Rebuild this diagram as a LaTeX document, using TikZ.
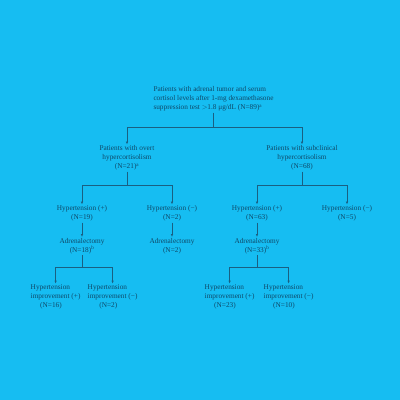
\documentclass[tikz,border=0pt]{standalone}
\usepackage{fontspec}
\setmainfont{Liberation Serif}
\usepackage{xcolor}
\definecolor{bgCyan}{HTML}{16BDF2}
\definecolor{inkBlue}{HTML}{0F4868}
\definecolor{lineBlue}{HTML}{1A5F82}
\usepackage{tikz}
\usetikzlibrary{
    arrows.meta,
    positioning,
    calc
}
\tikzset{
    % Base style for all boxes (no frame, just text)
    flow base/.style={
        font=\fontsize{10}{12.3}\selectfont,
        text=inkBlue,
        inner sep=1.5pt,
        align=center,
    },
    % Group nodes with left aligned lines
    group box/.style={
        flow base,
        align=left,
    },
    % Outcome nodes at the bottom
    outcome/.style={
        flow base,
        align=left,
        anchor=west,
    },
    % Plain joining line
    joint/.style={
        draw=lineBlue,
        line width=0.7pt,
    },
    % Arrow style
    arrow/.style={
        joint,
        -{Latex[length=4pt, width=3.2pt]},
    },
}

\begin{document}
\begin{tikzpicture}[x=1.37pt, y=-1.37pt]
    \fill[bgCyan] (0,0) rectangle (400,400);
    \useasboundingbox (0,0) rectangle (400,400);

    % top level
    \node (all) [group box] at (213.5,99) {Patients with adrenal tumor and serum\\cortisol levels after 1-mg dexamethasone\\suppression test $>$1.8 μg/dL (N=89)\textsuperscript{a}};

    % second level
    \node (overt) [flow base] at (127,158) {Patients with overt\\hypercortisolism\\(N=21)\textsuperscript{a}};
    \node (subcl) [flow base] at (302,158) {Patients with subclinical\\hypercortisolism\\(N=68)};

    % third level
    \node (htpL) [flow base] at (82,213.5) {Hypertension (+)\\(N=19)};
    \node (htmL) [flow base] at (172,213.5) {Hypertension (−)\\(N=2)};
    \node (htpR) [flow base] at (257,213.5) {Hypertension (+)\\(N=63)};
    \node (htmR) [flow base] at (347,213.5) {Hypertension (−)\\(N=5)};

    % adrenalectomy
    \node (adrL) [flow base] at (82,246) {Adrenalectomy\\(N=18)\textsuperscript{b}};
    \node (adrL2) [flow base] at (172,246) {Adrenalectomy\\(N=2)};
    \node (adrR) [flow base] at (257,246) {Adrenalectomy\\(N=33)\textsuperscript{b}};

    % outcomes
    \node (impLp) [outcome] at (29.5,297) {Hypertension\\improvement (+)\\\hspace*{1.3em}(N=16)};
    \node (impLm) [outcome] at (86.5,297) {Hypertension\\improvement (−)\\\hspace*{1.6em}(N=2)};
    \node (impRp) [outcome] at (203.5,297) {Hypertension\\improvement (+)\\\hspace*{1.3em}(N=23)};
    \node (impRm) [outcome] at (262.5,297) {Hypertension\\improvement (−)\\\hspace*{1.3em}(N=10)};

    % branch points
    \coordinate (splitTop) at (213.5,127);
    \coordinate (splitOvert) at (127,185);
    \coordinate (splitSubcl) at (302,185);
    \coordinate (splitAdrL) at (82,267);
    \coordinate (splitAdrR) at (257,267);

    \draw [joint] (all) -- (splitTop);
    \draw [arrow] (splitTop) -| (overt.north);
    \draw [arrow] (splitTop) -| (subcl.north);

    \draw [joint] (overt) -- (splitOvert);
    \draw [arrow] (splitOvert) -| (htpL.north);
    \draw [arrow] (splitOvert) -| (htmL.north);
    \draw [joint] (subcl) -- (splitSubcl);
    \draw [arrow] (splitSubcl) -| (htpR.north);
    \draw [arrow] (splitSubcl) -| (htmR.north);

    \draw [arrow] (htpL) -- (adrL);
    \draw [arrow] (htmL) -- (adrL2);
    \draw [arrow] (htpR) -- (adrR);

    \draw [joint] (adrL) -- (splitAdrL);
    \draw [arrow] (splitAdrL) -| (impLp.north);
    \draw [arrow] (splitAdrL) -| (impLm.north);
    \draw [joint] (adrR) -- (splitAdrR);
    \draw [arrow] (splitAdrR) -| (impRp.north);
    \draw [arrow] (splitAdrR) -| (impRm.north);
\end{tikzpicture}
\end{document}
